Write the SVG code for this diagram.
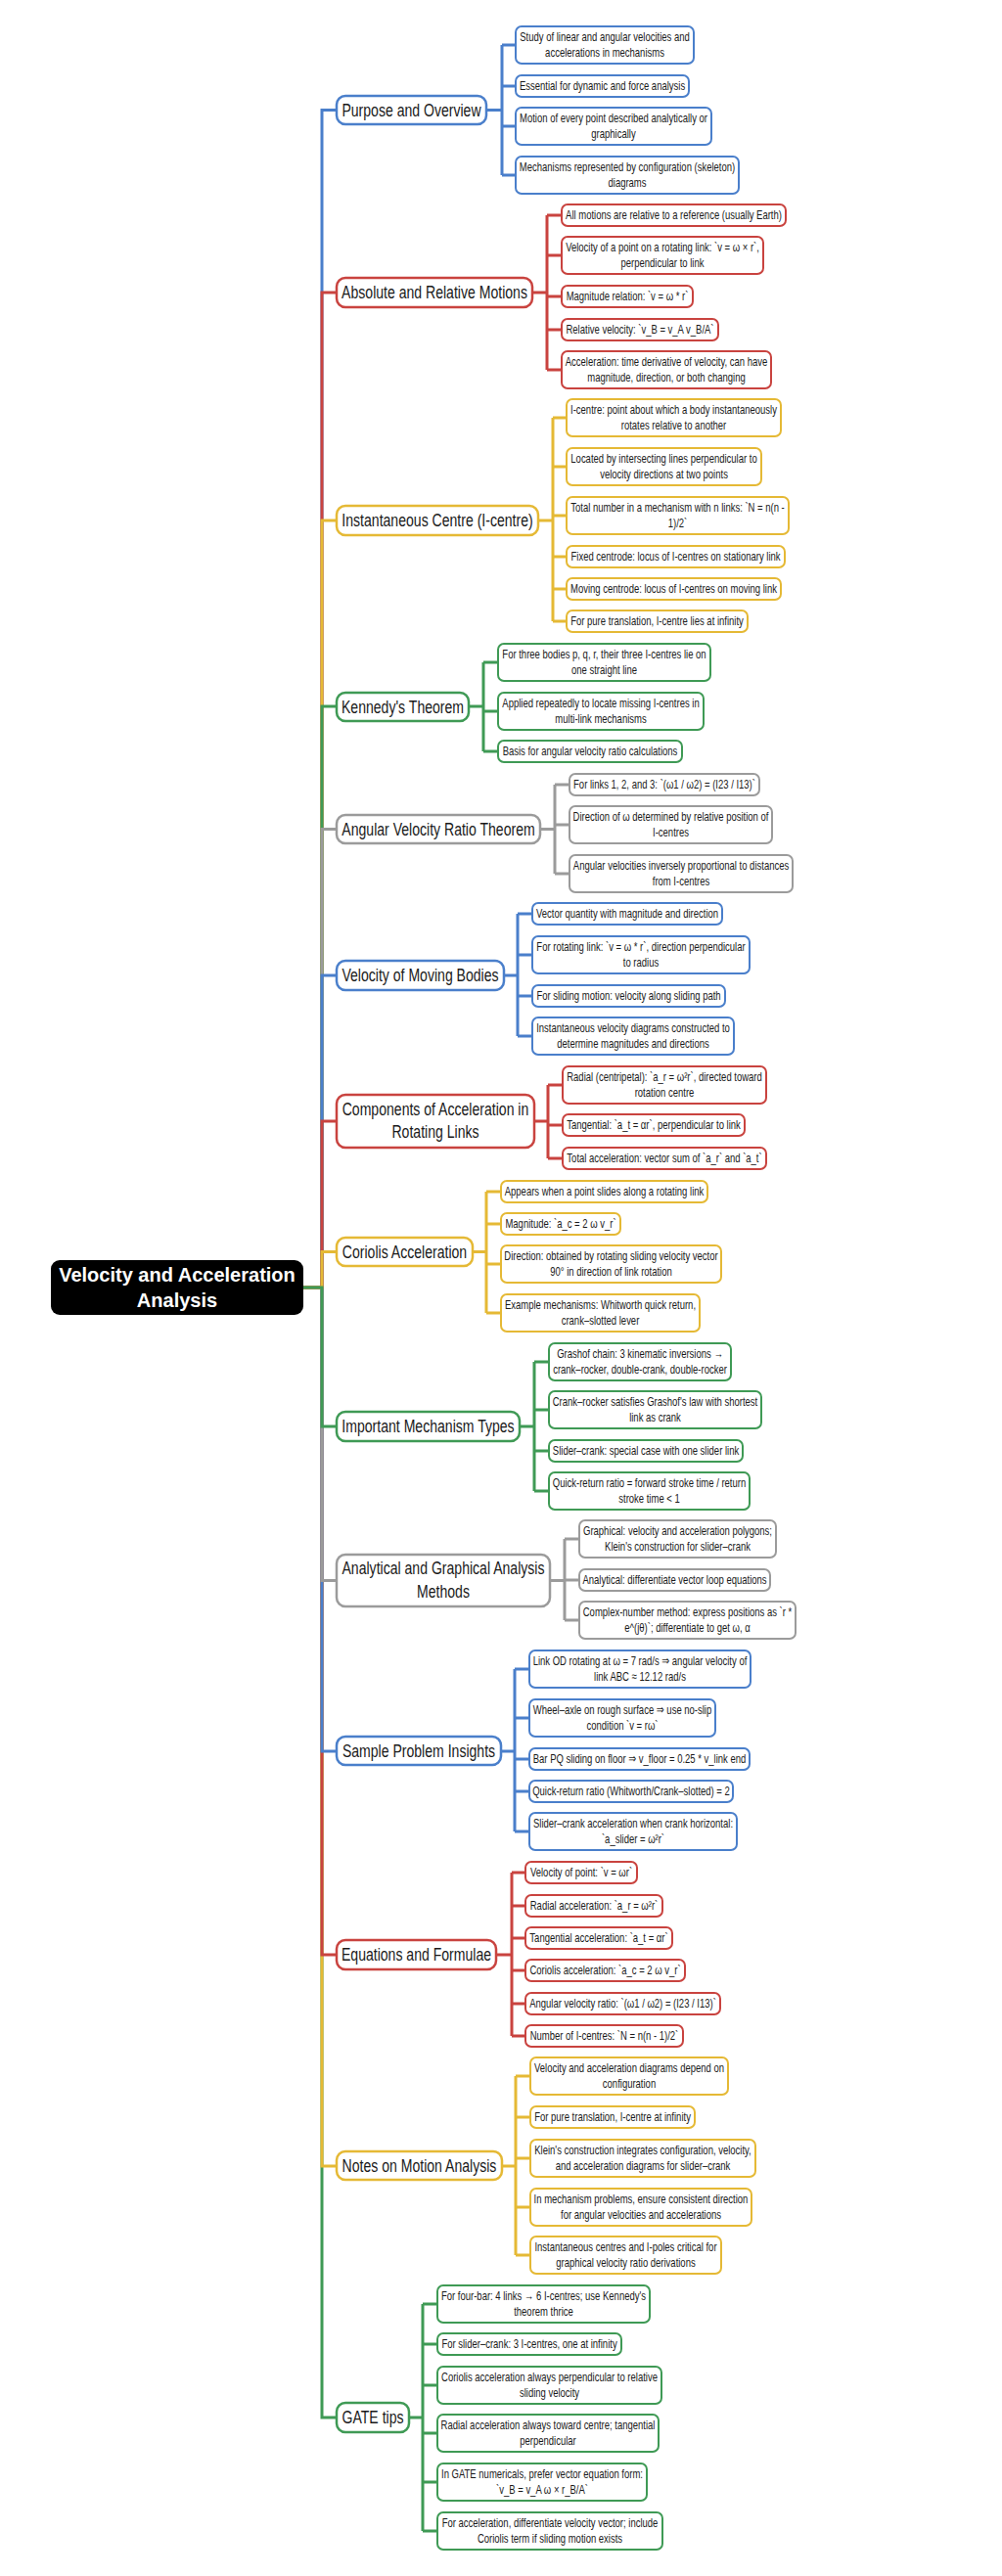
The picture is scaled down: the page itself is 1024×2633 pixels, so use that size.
<svg xmlns="http://www.w3.org/2000/svg" width="1024" height="2633" viewBox="0 0 1024 2633">
<style>
.c path{fill:none;stroke-width:3}
.cb{stroke:#4a7fcb}.cr{stroke:#c9433f}.cy{stroke:#e5b935}.cg{stroke:#3f9a55}.cx{stroke:#9b9b9b}
rect.lf{fill:#fff;stroke-width:2}
rect.br{fill:#fff;stroke-width:2.5}
rect.b{stroke:#4a7fcb}rect.r{stroke:#c9433f}rect.y{stroke:#e5b935}rect.g{stroke:#3f9a55}rect.x{stroke:#9b9b9b}
text{font-family:"Liberation Sans",Arial,"DejaVu Sans",sans-serif;fill:#1a1a1a;text-anchor:middle}
text.l{font-size:13px}
text.h{font-size:18.5px}
text.rt{font-size:20px;font-weight:bold;fill:#fff}
</style>
<rect width="1024" height="2633" fill="#fff"/>
<g class="c" id="connectors">
<path class="cb" d="M310 1316H329V112.5H344"/>
<path class="cg" d="M310 1316H329V2471H344"/>
<path class="cr" d="M310 1316H329V299H344"/>
<path class="cy" d="M310 1316H329V2214H344"/>
<path class="cy" d="M310 1316H329V532H344"/>
<path class="cr" d="M310 1316H329V1998H344"/>
<path class="cg" d="M310 1316H329V722H344"/>
<path class="cb" d="M310 1316H329V1790H344"/>
<path class="cx" d="M310 1316H329V847.5H344"/>
<path class="cx" d="M310 1316H329V1615.5H344"/>
<path class="cb" d="M310 1316H329V997H344"/>
<path class="cr" d="M310 1316H329V1146H344"/>
<path class="cy" d="M310 1316H329V1279.5H344"/>
<path class="cg" d="M310 1316H329V1458H344"/>
<path class="cb" d="M497 112.5H513M513 46V179M513 46H527M513 88H527M513 129H527M513 179H527"/>
<path class="cr" d="M544 299H559M559 220V378M559 220H574M559 261H574M559 303H574M559 337H574M559 378H574"/>
<path class="cy" d="M550 532H565M565 427V635M565 427H579M565 477H579M565 527H579M565 569H579M565 602H579M565 635H579"/>
<path class="cg" d="M479 722H494M494 677V768M494 677H509M494 727H509M494 768H509"/>
<path class="cx" d="M552 847.5H567M567 802V893M567 802H582M567 843H582M567 893H582"/>
<path class="cb" d="M515 997H529M529 934V1059M529 934H544M529 976H544M529 1018H544M529 1059H544"/>
<path class="cr" d="M546 1146H560M560 1109V1184M560 1109H575M560 1150H575M560 1184H575"/>
<path class="cy" d="M483 1279.5H497M497 1218V1342M497 1218H512M497 1251H512M497 1292H512M497 1342H512"/>
<path class="cg" d="M531 1458H546M546 1392V1524M546 1392H561M546 1441H561M546 1483H561M546 1524H561"/>
<path class="cx" d="M562 1615.5H577M577 1573V1656M577 1573H592M577 1615H592M577 1656H592"/>
<path class="cb" d="M512 1790H526M526 1706V1872M526 1706H541M526 1756H541M526 1798H541M526 1831H541M526 1872H541"/>
<path class="cr" d="M507 1998H523M523 1914V2081M523 1914H537M523 1948H537M523 1981H537M523 2014H537M523 2048H537M523 2081H537"/>
<path class="cy" d="M513 2214H527M527 2122V2305M527 2122H542M527 2164H542M527 2206H542M527 2256H542M527 2305H542"/>
<path class="cg" d="M418 2471H432M432 2355V2587M432 2355H447M432 2396H447M432 2438H447M432 2487H447M432 2537H447M432 2587H447"/>
</g>

<g id="root">
<rect x="52" y="1288" width="258" height="56" rx="9" fill="#000"/>
<text class="rt" x="181" y="1310">Velocity and Acceleration</text>
<text class="rt" x="181" y="1336">Analysis</text>
</g>

<g id="b1">
<rect class="br b" x="344" y="98" width="153" height="29" rx="9"/>
<text class="h" transform="translate(420.5 119) scale(0.76 1)">Purpose and Overview</text>
</g>
<g id="b1l1"><rect class="lf b" x="527" y="27" width="182" height="38" rx="6"/><text class="l" transform="translate(618 42) scale(0.73 1)"><tspan x="0">Study of linear and angular velocities and</tspan><tspan x="0" dy="16">accelerations in mechanisms</tspan></text></g>
<g id="b1l2"><rect class="lf b" x="527" y="77" width="177" height="22" rx="6"/><text class="l" transform="translate(615.5 92) scale(0.73 1)">Essential for dynamic and force analysis</text></g>
<g id="b1l3"><rect class="lf b" x="527" y="110" width="200" height="38" rx="6"/><text class="l" transform="translate(627 125) scale(0.73 1)"><tspan x="0">Motion of every point described analytically or</tspan><tspan x="0" dy="16">graphically</tspan></text></g>
<g id="b1l4"><rect class="lf b" x="527" y="160" width="228" height="38" rx="6"/><text class="l" transform="translate(641 175) scale(0.73 1)"><tspan x="0">Mechanisms represented by configuration (skeleton)</tspan><tspan x="0" dy="16">diagrams</tspan></text></g>

<g id="b2">
<rect class="br r" x="344" y="284" width="200" height="30" rx="9"/>
<text class="h" transform="translate(444 305) scale(0.76 1)">Absolute and Relative Motions</text>
</g>
<g id="b2l1"><rect class="lf r" x="574" y="209" width="229" height="22" rx="6"/><text class="l" transform="translate(688.5 224) scale(0.73 1)">All motions are relative to a reference (usually Earth)</text></g>
<g id="b2l2"><rect class="lf r" x="574" y="242" width="206" height="38" rx="6"/><text class="l" transform="translate(677 257) scale(0.73 1)"><tspan x="0">Velocity of a point on a rotating link: `v = ω × r`,</tspan><tspan x="0" dy="16">perpendicular to link</tspan></text></g>
<g id="b2l3"><rect class="lf r" x="574" y="292" width="134" height="22" rx="6"/><text class="l" transform="translate(641 307) scale(0.73 1)">Magnitude relation: `v = ω * r`</text></g>
<g id="b2l4"><rect class="lf r" x="574" y="326" width="160" height="22" rx="6"/><text class="l" transform="translate(654 341) scale(0.73 1)">Relative velocity: `v_B = v_A v_B/A`</text></g>
<g id="b2l5"><rect class="lf r" x="574" y="359" width="214" height="38" rx="6"/><text class="l" transform="translate(681 374) scale(0.73 1)"><tspan x="0">Acceleration: time derivative of velocity, can have</tspan><tspan x="0" dy="16">magnitude, direction, or both changing</tspan></text></g>

<g id="b3">
<rect class="br y" x="344" y="517" width="206" height="30" rx="9"/>
<text class="h" transform="translate(447 538) scale(0.76 1)">Instantaneous Centre (I-centre)</text>
</g>
<g id="b3l1"><rect class="lf y" x="579" y="408" width="219" height="38" rx="6"/><text class="l" transform="translate(688.5 423) scale(0.73 1)"><tspan x="0">I-centre: point about which a body instantaneously</tspan><tspan x="0" dy="16">rotates relative to another</tspan></text></g>
<g id="b3l2"><rect class="lf y" x="579" y="458" width="199" height="38" rx="6"/><text class="l" transform="translate(678.5 473) scale(0.73 1)"><tspan x="0">Located by intersecting lines perpendicular to</tspan><tspan x="0" dy="16">velocity directions at two points</tspan></text></g>
<g id="b3l3"><rect class="lf y" x="579" y="508" width="227" height="38" rx="6"/><text class="l" transform="translate(692.5 523) scale(0.73 1)"><tspan x="0">Total number in a mechanism with n links: `N = n(n -</tspan><tspan x="0" dy="16">1)/2`</tspan></text></g>
<g id="b3l4"><rect class="lf y" x="579" y="558" width="223" height="22" rx="6"/><text class="l" transform="translate(690.5 573) scale(0.73 1)">Fixed centrode: locus of I-centres on stationary link</text></g>
<g id="b3l5"><rect class="lf y" x="579" y="591" width="219" height="22" rx="6"/><text class="l" transform="translate(688.5 606) scale(0.73 1)">Moving centrode: locus of I-centres on moving link</text></g>
<g id="b3l6"><rect class="lf y" x="579" y="624" width="185" height="22" rx="6"/><text class="l" transform="translate(671.5 639) scale(0.73 1)">For pure translation, I-centre lies at infinity</text></g>

<g id="b4">
<rect class="br g" x="344" y="708" width="135" height="29" rx="9"/>
<text class="h" transform="translate(411.5 729) scale(0.76 1)">Kennedy's Theorem</text>
</g>
<g id="b4l1"><rect class="lf g" x="509" y="658" width="217" height="38" rx="6"/><text class="l" transform="translate(617.5 673) scale(0.73 1)"><tspan x="0">For three bodies p, q, r, their three I-centres lie on</tspan><tspan x="0" dy="16">one straight line</tspan></text></g>
<g id="b4l2"><rect class="lf g" x="509" y="708" width="210" height="38" rx="6"/><text class="l" transform="translate(614 723) scale(0.73 1)"><tspan x="0">Applied repeatedly to locate missing I-centres in</tspan><tspan x="0" dy="16">multi-link mechanisms</tspan></text></g>
<g id="b4l3"><rect class="lf g" x="509" y="757" width="188" height="22" rx="6"/><text class="l" transform="translate(603 772) scale(0.73 1)">Basis for angular velocity ratio calculations</text></g>

<g id="b5">
<rect class="br x" x="344" y="833" width="208" height="29" rx="9"/>
<text class="h" transform="translate(448 854) scale(0.76 1)">Angular Velocity Ratio Theorem</text>
</g>
<g id="b5l1"><rect class="lf x" x="582" y="791" width="194" height="22" rx="6"/><text class="l" transform="translate(679 806) scale(0.73 1)">For links 1, 2, and 3: `(ω1 / ω2) = (I23 / I13)`</text></g>
<g id="b5l2"><rect class="lf x" x="582" y="824" width="207" height="38" rx="6"/><text class="l" transform="translate(685.5 839) scale(0.73 1)"><tspan x="0">Direction of ω determined by relative position of</tspan><tspan x="0" dy="16">I-centres</tspan></text></g>
<g id="b5l3"><rect class="lf x" x="582" y="874" width="228" height="38" rx="6"/><text class="l" transform="translate(696 889) scale(0.73 1)"><tspan x="0">Angular velocities inversely proportional to distances</tspan><tspan x="0" dy="16">from I-centres</tspan></text></g>

<g id="b6">
<rect class="br b" x="344" y="982" width="171" height="30" rx="9"/>
<text class="h" transform="translate(429.5 1003) scale(0.76 1)">Velocity of Moving Bodies</text>
</g>
<g id="b6l1"><rect class="lf b" x="544" y="923" width="194" height="22" rx="6"/><text class="l" transform="translate(641 938) scale(0.73 1)">Vector quantity with magnitude and direction</text></g>
<g id="b6l2"><rect class="lf b" x="544" y="957" width="222" height="38" rx="6"/><text class="l" transform="translate(655 972) scale(0.73 1)"><tspan x="0">For rotating link: `v = ω * r`, direction perpendicular</tspan><tspan x="0" dy="16">to radius</tspan></text></g>
<g id="b6l3"><rect class="lf b" x="544" y="1007" width="197" height="22" rx="6"/><text class="l" transform="translate(642.5 1022) scale(0.73 1)">For sliding motion: velocity along sliding path</text></g>
<g id="b6l4"><rect class="lf b" x="544" y="1040" width="206" height="38" rx="6"/><text class="l" transform="translate(647 1055) scale(0.73 1)"><tspan x="0">Instantaneous velocity diagrams constructed to</tspan><tspan x="0" dy="16">determine magnitudes and directions</tspan></text></g>

<g id="b7">
<rect class="br r" x="344" y="1119" width="202" height="54" rx="9"/>
<text class="h" transform="translate(445 1140) scale(0.76 1)"><tspan x="0">Components of Acceleration in</tspan><tspan x="0" dy="23">Rotating Links</tspan></text>
</g>
<g id="b7l1"><rect class="lf r" x="575" y="1090" width="208" height="38" rx="6"/><text class="l" transform="translate(679 1105) scale(0.73 1)"><tspan x="0">Radial (centripetal): `a_r = ω²r`, directed toward</tspan><tspan x="0" dy="16">rotation centre</tspan></text></g>
<g id="b7l2"><rect class="lf r" x="575" y="1139" width="186" height="22" rx="6"/><text class="l" transform="translate(668 1154) scale(0.73 1)">Tangential: `a_t = αr`, perpendicular to link</text></g>
<g id="b7l3"><rect class="lf r" x="575" y="1173" width="208" height="22" rx="6"/><text class="l" transform="translate(679 1188) scale(0.73 1)">Total acceleration: vector sum of `a_r` and `a_t`</text></g>

<g id="b8">
<rect class="br y" x="344" y="1265" width="139" height="29" rx="9"/>
<text class="h" transform="translate(413.5 1286) scale(0.76 1)">Coriolis Acceleration</text>
</g>
<g id="b8l1"><rect class="lf y" x="512" y="1207" width="211" height="22" rx="6"/><text class="l" transform="translate(617.5 1222) scale(0.73 1)">Appears when a point slides along a rotating link</text></g>
<g id="b8l2"><rect class="lf y" x="512" y="1240" width="122" height="22" rx="6"/><text class="l" transform="translate(573 1255) scale(0.73 1)">Magnitude: `a_c = 2 ω v_r`</text></g>
<g id="b8l3"><rect class="lf y" x="512" y="1273" width="225" height="38" rx="6"/><text class="l" transform="translate(624.5 1288) scale(0.73 1)"><tspan x="0">Direction: obtained by rotating sliding velocity vector</tspan><tspan x="0" dy="16">90° in direction of link rotation</tspan></text></g>
<g id="b8l4"><rect class="lf y" x="512" y="1323" width="203" height="38" rx="6"/><text class="l" transform="translate(613.5 1338) scale(0.73 1)"><tspan x="0">Example mechanisms: Whitworth quick return,</tspan><tspan x="0" dy="16">crank–slotted lever</tspan></text></g>

<g id="b9">
<rect class="br g" x="344" y="1443" width="187" height="30" rx="9"/>
<text class="h" transform="translate(437.5 1464) scale(0.76 1)">Important Mechanism Types</text>
</g>
<g id="b9l1"><rect class="lf g" x="561" y="1373" width="186" height="38" rx="6"/><text class="l" transform="translate(654 1388) scale(0.73 1)"><tspan x="0">Grashof chain: 3 kinematic inversions →</tspan><tspan x="0" dy="16">crank–rocker, double-crank, double-rocker</tspan></text></g>
<g id="b9l2"><rect class="lf g" x="561" y="1422" width="217" height="38" rx="6"/><text class="l" transform="translate(669.5 1437) scale(0.73 1)"><tspan x="0">Crank–rocker satisfies Grashof's law with shortest</tspan><tspan x="0" dy="16">link as crank</tspan></text></g>
<g id="b9l3"><rect class="lf g" x="561" y="1472" width="198" height="22" rx="6"/><text class="l" transform="translate(660 1487) scale(0.73 1)">Slider–crank: special case with one slider link</text></g>
<g id="b9l4"><rect class="lf g" x="561" y="1505" width="205" height="38" rx="6"/><text class="l" transform="translate(663.5 1520) scale(0.73 1)"><tspan x="0">Quick-return ratio = forward stroke time / return</tspan><tspan x="0" dy="16">stroke time &lt; 1</tspan></text></g>

<g id="b10">
<rect class="br x" x="344" y="1589" width="218" height="53" rx="9"/>
<text class="h" transform="translate(453 1609) scale(0.76 1)"><tspan x="0">Analytical and Graphical Analysis</tspan><tspan x="0" dy="24">Methods</tspan></text>
</g>
<g id="b10l1"><rect class="lf x" x="592" y="1554" width="201" height="38" rx="6"/><text class="l" transform="translate(692.5 1569) scale(0.73 1)"><tspan x="0">Graphical: velocity and acceleration polygons;</tspan><tspan x="0" dy="16">Klein's construction for slider–crank</tspan></text></g>
<g id="b10l2"><rect class="lf x" x="592" y="1604" width="195" height="22" rx="6"/><text class="l" transform="translate(689.5 1619) scale(0.73 1)">Analytical: differentiate vector loop equations</text></g>
<g id="b10l3"><rect class="lf x" x="592" y="1637" width="221" height="38" rx="6"/><text class="l" transform="translate(702.5 1652) scale(0.73 1)"><tspan x="0">Complex-number method: express positions as `r *</tspan><tspan x="0" dy="16">e^(jθ)`; differentiate to get ω, α</tspan></text></g>

<g id="b11">
<rect class="br b" x="344" y="1775" width="168" height="29" rx="9"/>
<text class="h" transform="translate(428 1796) scale(0.76 1)">Sample Problem Insights</text>
</g>
<g id="b11l1"><rect class="lf b" x="541" y="1687" width="226" height="38" rx="6"/><text class="l" transform="translate(654 1702) scale(0.73 1)"><tspan x="0">Link OD rotating at ω = 7 rad/s ⇒ angular velocity of</tspan><tspan x="0" dy="16">link ABC ≈ 12.12 rad/s</tspan></text></g>
<g id="b11l2"><rect class="lf b" x="541" y="1737" width="190" height="38" rx="6"/><text class="l" transform="translate(636 1752) scale(0.73 1)"><tspan x="0">Wheel–axle on rough surface ⇒ use no-slip</tspan><tspan x="0" dy="16">condition `v = rω`</tspan></text></g>
<g id="b11l3"><rect class="lf b" x="541" y="1787" width="225" height="22" rx="6"/><text class="l" transform="translate(653.5 1802) scale(0.73 1)">Bar PQ sliding on floor ⇒ v_floor = 0.25 * v_link end</text></g>
<g id="b11l4"><rect class="lf b" x="541" y="1820" width="208" height="22" rx="6"/><text class="l" transform="translate(645 1835) scale(0.73 1)">Quick-return ratio (Whitworth/Crank–slotted) = 2</text></g>
<g id="b11l5"><rect class="lf b" x="541" y="1853" width="212" height="38" rx="6"/><text class="l" transform="translate(647 1868) scale(0.73 1)"><tspan x="0">Slider–crank acceleration when crank horizontal:</tspan><tspan x="0" dy="16">`a_slider = ω²r`</tspan></text></g>

<g id="b12">
<rect class="br r" x="344" y="1983" width="163" height="30" rx="9"/>
<text class="h" transform="translate(425.5 2004) scale(0.76 1)">Equations and Formulae</text>
</g>
<g id="b12l1"><rect class="lf r" x="537" y="1903" width="114" height="22" rx="6"/><text class="l" transform="translate(594 1918) scale(0.73 1)">Velocity of point: `v = ωr`</text></g>
<g id="b12l2"><rect class="lf r" x="537" y="1937" width="140" height="22" rx="6"/><text class="l" transform="translate(607 1952) scale(0.73 1)">Radial acceleration: `a_r = ω²r`</text></g>
<g id="b12l3"><rect class="lf r" x="537" y="1970" width="150" height="22" rx="6"/><text class="l" transform="translate(612 1985) scale(0.73 1)">Tangential acceleration: `a_t = αr`</text></g>
<g id="b12l4"><rect class="lf r" x="537" y="2003" width="163" height="22" rx="6"/><text class="l" transform="translate(618.5 2018) scale(0.73 1)">Coriolis acceleration: `a_c = 2 ω v_r`</text></g>
<g id="b12l5"><rect class="lf r" x="537" y="2037" width="199" height="22" rx="6"/><text class="l" transform="translate(636.5 2052) scale(0.73 1)">Angular velocity ratio: `(ω1 / ω2) = (I23 / I13)`</text></g>
<g id="b12l6"><rect class="lf r" x="537" y="2070" width="161" height="22" rx="6"/><text class="l" transform="translate(617.5 2085) scale(0.73 1)">Number of I-centres: `N = n(n - 1)/2`</text></g>

<g id="b13">
<rect class="br y" x="344" y="2199" width="169" height="29" rx="9"/>
<text class="h" transform="translate(428.5 2220) scale(0.76 1)">Notes on Motion Analysis</text>
</g>
<g id="b13l1"><rect class="lf y" x="542" y="2103" width="202" height="38" rx="6"/><text class="l" transform="translate(643 2118) scale(0.73 1)"><tspan x="0">Velocity and acceleration diagrams depend on</tspan><tspan x="0" dy="16">configuration</tspan></text></g>
<g id="b13l2"><rect class="lf y" x="542" y="2153" width="168" height="22" rx="6"/><text class="l" transform="translate(626 2168) scale(0.73 1)">For pure translation, I-centre at infinity</text></g>
<g id="b13l3"><rect class="lf y" x="542" y="2187" width="230" height="38" rx="6"/><text class="l" transform="translate(657 2202) scale(0.73 1)"><tspan x="0">Klein's construction integrates configuration, velocity,</tspan><tspan x="0" dy="16">and acceleration diagrams for slider–crank</tspan></text></g>
<g id="b13l4"><rect class="lf y" x="542" y="2237" width="226" height="38" rx="6"/><text class="l" transform="translate(655 2252) scale(0.73 1)"><tspan x="0">In mechanism problems, ensure consistent direction</tspan><tspan x="0" dy="16">for angular velocities and accelerations</tspan></text></g>
<g id="b13l5"><rect class="lf y" x="542" y="2286" width="195" height="38" rx="6"/><text class="l" transform="translate(639.5 2301) scale(0.73 1)"><tspan x="0">Instantaneous centres and I-poles critical for</tspan><tspan x="0" dy="16">graphical velocity ratio derivations</tspan></text></g>

<g id="b14">
<rect class="br g" x="344" y="2456" width="74" height="30" rx="9"/>
<text class="h" transform="translate(381 2477) scale(0.76 1)">GATE tips</text>
</g>
<g id="b14l1"><rect class="lf g" x="447" y="2336" width="217" height="38" rx="6"/><text class="l" transform="translate(555.5 2351) scale(0.73 1)"><tspan x="0">For four-bar: 4 links → 6 I-centres; use Kennedy's</tspan><tspan x="0" dy="16">theorem thrice</tspan></text></g>
<g id="b14l2"><rect class="lf g" x="447" y="2385" width="188" height="22" rx="6"/><text class="l" transform="translate(541 2400) scale(0.73 1)">For slider–crank: 3 I-centres, one at infinity</text></g>
<g id="b14l3"><rect class="lf g" x="447" y="2419" width="229" height="38" rx="6"/><text class="l" transform="translate(561.5 2434) scale(0.73 1)"><tspan x="0">Coriolis acceleration always perpendicular to relative</tspan><tspan x="0" dy="16">sliding velocity</tspan></text></g>
<g id="b14l4"><rect class="lf g" x="447" y="2468" width="226" height="38" rx="6"/><text class="l" transform="translate(560 2483) scale(0.73 1)"><tspan x="0">Radial acceleration always toward centre; tangential</tspan><tspan x="0" dy="16">perpendicular</tspan></text></g>
<g id="b14l5"><rect class="lf g" x="447" y="2518" width="214" height="38" rx="6"/><text class="l" transform="translate(554 2533) scale(0.73 1)"><tspan x="0">In GATE numericals, prefer vector equation form:</tspan><tspan x="0" dy="16">`v_B = v_A ω × r_B/A`</tspan></text></g>
<g id="b14l6"><rect class="lf g" x="447" y="2568" width="230" height="38" rx="6"/><text class="l" transform="translate(562 2583) scale(0.73 1)"><tspan x="0">For acceleration, differentiate velocity vector; include</tspan><tspan x="0" dy="16">Coriolis term if sliding motion exists</tspan></text></g>
</svg>
